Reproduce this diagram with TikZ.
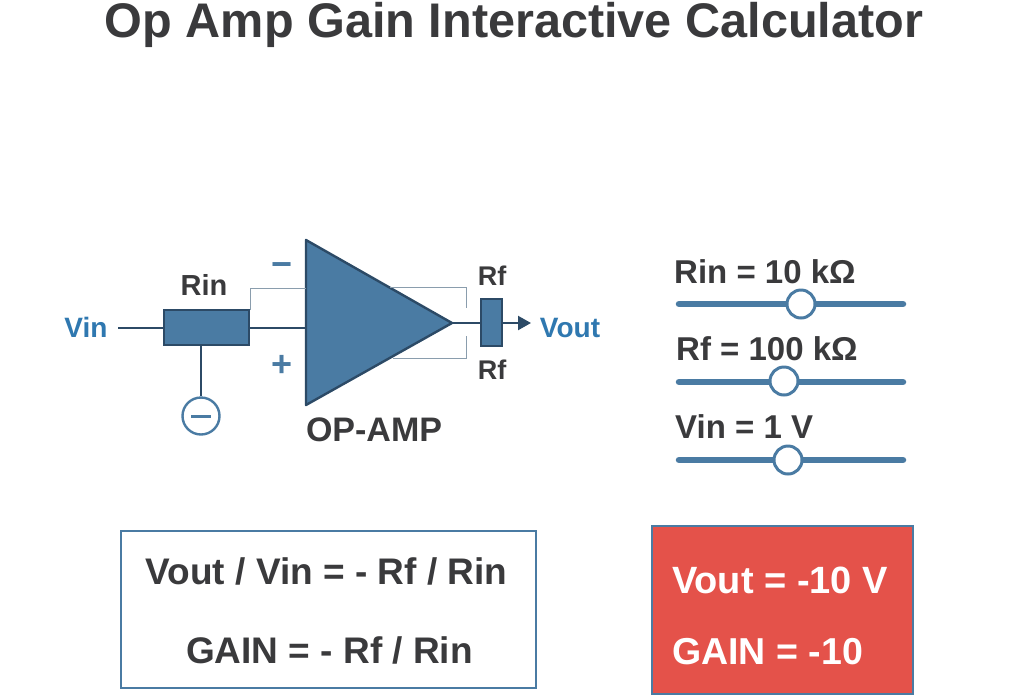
\documentclass[tikz,border=0pt]{standalone}
\usepackage{fontspec}
\setmainfont{Liberation Sans}
\usetikzlibrary{arrows.meta}
\definecolor{ink}{HTML}{3A3A3C}
\definecolor{sigblue}{HTML}{2F78B0}
\definecolor{amp}{HTML}{4A7BA3}
\definecolor{wire}{HTML}{2C4A66}
\definecolor{thin}{HTML}{8A9DAD}
\definecolor{track}{HTML}{4A7BA3}
\definecolor{panelred}{HTML}{E4524A}
\tikzset{
  x=1pt,y=-1pt,
  lbl/.style={font=\bfseries\fontsize{#1}{#1}\selectfont,text=ink,inner sep=0pt,anchor=base},
  blbl/.style={font=\bfseries\fontsize{#1}{#1}\selectfont,text=sigblue,inner sep=0pt,anchor=base},
  wlbl/.style={font=\bfseries\fontsize{#1}{#1}\selectfont,text=white,inner sep=0pt,anchor=base west},
  wireline/.style={draw=wire,line width=2.2pt},
  thinline/.style={draw=thin,line width=1pt},
  res/.style={draw=wire,fill=amp,line width=2.2pt,inner sep=0pt},
  tracksty/.style={draw=track,line width=6.5pt,line cap=round},
  knob/.style={circle,draw=track,fill=white,line width=3pt,minimum size=28pt,inner sep=0pt},
}
\begin{document}
\begin{tikzpicture}
\useasboundingbox (0,0) rectangle (1024,697);
\fill[white] (0,0) rectangle (1024,697);
\node[lbl=48.6] (title) at (514,37) {Op Amp Gain Interactive Calculator};

% op-amp
\coordinate (opTop) at (306,240);
\coordinate (opBot) at (306,405);
\coordinate (opOut) at (452,323);
\coordinate (opIn) at (306,328);
\coordinate (fbInA) at (306,288);
\draw[draw=wire,fill=amp,line width=2.4pt,line join=round] (opTop) -- (opOut) -- (opBot) -- cycle;
\node[lbl=34] (opamp) at (374,441) {OP-AMP};
\node[font=\bfseries\fontsize{36}{36}\selectfont,text=track,inner sep=0pt,anchor=base] (minus) at (282,276) {−};
\node[font=\bfseries\fontsize{36}{36}\selectfont,text=track,inner sep=0pt,anchor=base] (plus) at (282,376) {+};

% input
\node[blbl=28] (vin) at (86,337) {Vin};
\coordinate (vinEnd) at (118,328);
\node[res,minimum width=85pt,minimum height=35pt] (rin) at (206.5,327.5) {};
\node[lbl=29] (rinL) at (204,295) {Rin};
\draw[wireline] (vinEnd) -- (vinEnd -| rin.west);
\draw[wireline] (opIn -| rin.east) -- (opIn);
\draw[thinline] (250,310) |- (fbInA);

% ground
\node[circle,draw=track,fill=white,line width=2.4pt,minimum size=37pt,inner sep=0pt] (gnd) at (201,416) {};
\draw[line width=3pt,draw=track] (gnd.center) ++(-10,0) -- ++(20,0);
\draw[wireline] (201,345) -- (gnd.north);

% output
\node[res,minimum width=21pt,minimum height=47pt] (rf) at (491.5,322.5) {};
\node[lbl=27] (rfTop) at (492,285) {Rf};
\node[lbl=27] (rfBot) at (492,379) {Rf};
\node[blbl=28] (vout) at (570,337) {Vout};
\coordinate (arrowEnd) at (531,323);
\draw[wireline] (opOut) -- (opOut -| rf.west);
\draw[wireline,-{Triangle[length=13pt,width=14pt]}] (rf.east |- opOut) -- (arrowEnd);
\draw[thinline] (390,287) -| (466,308);
\draw[thinline] (393,358) -| (466,336);

% sliders
\node[lbl=33,anchor=base west] (s1) at (674,283) {Rin = 10 kΩ};
\coordinate (t1a) at (679,304); \coordinate (t1b) at (903,304);
\draw[tracksty] (t1a) -- (t1b);
\node[knob] (k1) at (801,304) {};
\node[lbl=33,anchor=base west] (s2) at (676,360) {Rf = 100 kΩ};
\coordinate (t2a) at (679,382); \coordinate (t2b) at (903,382);
\draw[tracksty] (t2a) -- (t2b);
\node[knob] (k2) at (784,381) {};
\node[lbl=33,anchor=base west] (s3) at (675,438) {Vin = 1 V};
\coordinate (t3a) at (679,460); \coordinate (t3b) at (903,460);
\draw[tracksty] (t3a) -- (t3b);
\node[knob] (k3) at (788,460) {};

% formula panel
\node[draw=track,fill=white,line width=2.5pt,minimum width=415pt,minimum height=157pt,inner sep=0pt] (formula) at (328.5,609.5) {};
\node[lbl=37] (f1) at (326.5,584) {Vout / Vin = - Rf / Rin};
\node[lbl=37] (f2) at (329.5,663) {GAIN = - Rf / Rin};

% result panel
\node[draw=track,fill=panelred,line width=2.5pt,minimum width=261pt,minimum height=168pt,inner sep=0pt] (result) at (782.5,610) {};
\node[wlbl=38] (r1) at (672,593) {Vout = -10 V};
\node[wlbl=37.5] (r2) at (672,664) {GAIN = -10};
\end{tikzpicture}
\end{document}
